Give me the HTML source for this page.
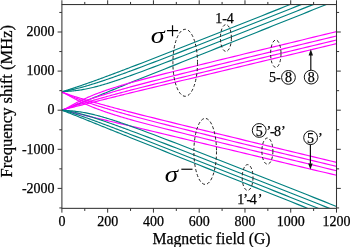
<!DOCTYPE html><html><head><meta charset="utf-8"><title>Frequency shift vs magnetic field</title><style>html,body{margin:0;padding:0;background:#fff}body{width:350px;height:247px;position:relative;overflow:hidden}</style></head><body><svg width="350" height="247" viewBox="0 0 350 247" style="position:absolute;left:0;top:0">
<defs><clipPath id="c"><rect x="61.9" y="4.55" width="274.6" height="203.79999999999998"/></clipPath></defs>
<g clip-path="url(#c)" fill="none" stroke-linejoin="round">
<path d="M61.90,91.94 L63.04,91.47 L64.19,91.06 L65.33,90.68 L66.48,90.31 L67.62,89.95 L68.77,89.59 L69.91,89.23 L71.05,88.86 L72.20,88.49 L73.34,88.12 L74.49,87.75 L75.63,87.37 L76.77,86.99 L77.92,86.61 L79.06,86.23 L80.21,85.84 L81.35,85.45 L82.50,85.06 L83.64,84.66 L84.78,84.27 L85.93,83.87 L87.07,83.46 L88.22,83.06 L89.36,82.66 L90.50,82.25 L91.65,81.84 L92.79,81.43 L93.94,81.02 L95.08,80.61 L96.22,80.19 L97.37,79.78 L98.51,79.36 L99.66,78.94 L100.80,78.52 L101.95,78.10 L103.09,77.68 L104.23,77.26 L105.38,76.83 L106.52,76.41 L107.67,75.98 L108.81,75.56 L109.96,75.13 L111.10,74.70 L112.24,74.27 L113.39,73.84 L114.53,73.41 L115.68,72.98 L116.82,72.55 L117.96,72.12 L119.11,71.68 L120.25,71.25 L121.40,70.82 L122.54,70.38 L123.69,69.95 L124.83,69.51 L125.97,69.08 L127.12,68.64 L128.26,68.20 L129.41,67.77 L130.55,67.33 L136.27,65.13 L141.99,62.92 L147.71,60.70 L153.43,58.48 L159.15,56.25 L164.88,54.01 L170.60,51.78 L176.32,49.53 L182.04,47.29 L187.76,45.04 L193.48,42.79 L199.20,40.54 L204.92,38.28 L210.64,36.03 L216.36,33.77 L222.08,31.51 L227.80,29.25 L233.53,26.99 L239.25,24.73 L244.97,22.46 L250.69,20.20 L256.41,17.93 L262.13,15.66 L267.85,13.39 L273.57,11.13 L279.29,8.86 L285.01,6.59 L290.73,4.32 L296.45,2.05 L302.18,-0.23 L307.90,-2.50 L313.62,-4.77 L319.34,-7.04 L325.06,-9.31 L330.78,-11.59 L336.50,-13.86" stroke="#008080" stroke-width="1.15"/>
<path d="M61.90,91.94 L63.04,91.65 L64.19,91.35 L65.33,91.09 L66.48,90.85 L67.62,90.61 L68.77,90.38 L69.91,90.14 L71.05,89.89 L72.20,89.64 L73.34,89.38 L74.49,89.12 L75.63,88.84 L76.77,88.56 L77.92,88.28 L79.06,87.99 L80.21,87.69 L81.35,87.38 L82.50,87.07 L83.64,86.76 L84.78,86.44 L85.93,86.11 L87.07,85.78 L88.22,85.44 L89.36,85.10 L90.50,84.76 L91.65,84.41 L92.79,84.06 L93.94,83.70 L95.08,83.34 L96.22,82.98 L97.37,82.61 L98.51,82.24 L99.66,81.86 L100.80,81.49 L101.95,81.11 L103.09,80.73 L104.23,80.34 L105.38,79.95 L106.52,79.56 L107.67,79.17 L108.81,78.78 L109.96,78.38 L111.10,77.99 L112.24,77.59 L113.39,77.18 L114.53,76.78 L115.68,76.38 L116.82,75.97 L117.96,75.56 L119.11,75.15 L120.25,74.74 L121.40,74.33 L122.54,73.92 L123.69,73.50 L124.83,73.09 L125.97,72.67 L127.12,72.25 L128.26,71.83 L129.41,71.41 L130.55,70.99 L136.27,68.87 L141.99,66.73 L147.71,64.57 L153.43,62.39 L159.15,60.21 L164.88,58.01 L170.60,55.81 L176.32,53.60 L182.04,51.39 L187.76,49.16 L193.48,46.94 L199.20,44.71 L204.92,42.47 L210.64,40.23 L216.36,37.99 L222.08,35.74 L227.80,33.50 L233.53,31.25 L239.25,29.00 L244.97,26.74 L250.69,24.49 L256.41,22.23 L262.13,19.97 L267.85,17.72 L273.57,15.45 L279.29,13.19 L285.01,10.93 L290.73,8.67 L296.45,6.40 L302.18,4.14 L307.90,1.87 L313.62,-0.40 L319.34,-2.66 L325.06,-4.93 L330.78,-7.20 L336.50,-9.47" stroke="#008080" stroke-width="1.15"/>
<path d="M61.90,91.94 L63.04,91.86 L64.19,91.64 L65.33,91.52 L66.48,91.43 L67.62,91.36 L68.77,91.28 L69.91,91.19 L71.05,91.09 L72.20,90.99 L73.34,90.88 L74.49,90.75 L75.63,90.62 L76.77,90.48 L77.92,90.33 L79.06,90.17 L80.21,90.00 L81.35,89.82 L82.50,89.63 L83.64,89.43 L84.78,89.22 L85.93,89.00 L87.07,88.77 L88.22,88.53 L89.36,88.29 L90.50,88.03 L91.65,87.77 L92.79,87.50 L93.94,87.22 L95.08,86.93 L96.22,86.64 L97.37,86.34 L98.51,86.03 L99.66,85.71 L100.80,85.39 L101.95,85.06 L103.09,84.73 L104.23,84.39 L105.38,84.05 L106.52,83.70 L107.67,83.35 L108.81,82.99 L109.96,82.63 L111.10,82.26 L112.24,81.89 L113.39,81.52 L114.53,81.15 L115.68,80.77 L116.82,80.38 L117.96,80.00 L119.11,79.61 L120.25,79.22 L121.40,78.82 L122.54,78.43 L123.69,78.03 L124.83,77.63 L125.97,77.23 L127.12,76.82 L128.26,76.42 L129.41,76.01 L130.55,75.60 L136.27,73.53 L141.99,71.42 L147.71,69.29 L153.43,67.13 L159.15,64.96 L164.88,62.78 L170.60,60.59 L176.32,58.38 L182.04,56.17 L187.76,53.95 L193.48,51.72 L199.20,49.49 L204.92,47.26 L210.64,45.02 L216.36,42.78 L222.08,40.53 L227.80,38.28 L233.53,36.03 L239.25,33.78 L244.97,31.52 L250.69,29.27 L256.41,27.01 L262.13,24.75 L267.85,22.49 L273.57,20.23 L279.29,17.96 L285.01,15.70 L290.73,13.43 L296.45,11.17 L302.18,8.90 L307.90,6.63 L313.62,4.36 L319.34,2.09 L325.06,-0.18 L330.78,-2.45 L336.50,-4.72" stroke="#008080" stroke-width="1.15"/>
<path d="M61.90,109.95 L63.04,109.78 L64.19,109.49 L65.33,109.12 L66.48,108.70 L67.62,108.27 L68.77,107.82 L69.91,107.37 L71.05,106.91 L72.20,106.45 L73.34,105.99 L74.49,105.52 L75.63,105.06 L76.77,104.59 L77.92,104.13 L79.06,103.66 L80.21,103.20 L81.35,102.73 L82.50,102.26 L83.64,101.80 L84.78,101.33 L85.93,100.86 L87.07,100.40 L88.22,99.93 L89.36,99.46 L90.50,98.99 L91.65,98.53 L92.79,98.06 L93.94,97.59 L95.08,97.12 L96.22,96.66 L97.37,96.19 L98.51,95.72 L99.66,95.25 L100.80,94.79 L101.95,94.32 L103.09,93.85 L104.23,93.38 L105.38,92.92 L106.52,92.45 L107.67,91.98 L108.81,91.51 L109.96,91.04 L111.10,90.58 L112.24,90.11 L113.39,89.64 L114.53,89.17 L115.68,88.70 L116.82,88.24 L117.96,87.77 L119.11,87.30 L120.25,86.83 L121.40,86.36 L122.54,85.90 L123.69,85.43 L124.83,84.96 L125.97,84.49 L127.12,84.02 L128.26,83.56 L129.41,83.09 L130.55,82.62 L136.27,80.34 L141.99,78.06 L147.71,75.77 L153.43,73.49 L159.15,71.21 L164.88,68.93 L170.60,66.65 L176.32,64.37 L182.04,62.08 L187.76,59.80 L193.48,57.52 L199.20,55.24 L204.92,52.95 L210.64,50.67 L216.36,48.39 L222.08,46.11 L227.80,43.83 L233.53,41.54 L239.25,39.26 L244.97,36.98 L250.69,34.70 L256.41,32.42 L262.13,30.13 L267.85,27.85 L273.57,25.57 L279.29,23.29 L285.01,21.00 L290.73,18.72 L296.45,16.44 L302.18,14.16 L307.90,11.88 L313.62,9.59 L319.34,7.31 L325.06,5.03 L330.78,2.75 L336.50,0.47" stroke="#008080" stroke-width="1.15"/>
<path d="M61.90,109.95 L63.04,109.66 L64.19,109.38 L65.33,109.10 L66.48,108.81 L67.62,108.53 L68.77,108.24 L69.91,107.96 L71.05,107.67 L72.20,107.39 L73.34,107.10 L74.49,106.82 L75.63,106.53 L76.77,106.25 L77.92,105.96 L79.06,105.68 L80.21,105.39 L81.35,105.11 L82.50,104.83 L83.64,104.54 L84.78,104.26 L85.93,103.97 L87.07,103.69 L88.22,103.40 L89.36,103.12 L90.50,102.83 L91.65,102.55 L92.79,102.26 L93.94,101.98 L95.08,101.69 L96.22,101.41 L97.37,101.12 L98.51,100.84 L99.66,100.56 L100.80,100.27 L101.95,99.99 L103.09,99.70 L104.23,99.42 L105.38,99.13 L106.52,98.85 L107.67,98.56 L108.81,98.28 L109.96,97.99 L111.10,97.71 L112.24,97.42 L113.39,97.14 L114.53,96.85 L115.68,96.57 L116.82,96.29 L117.96,96.00 L119.11,95.72 L120.25,95.43 L121.40,95.15 L122.54,94.86 L123.69,94.58 L124.83,94.29 L125.97,94.01 L127.12,93.72 L128.26,93.44 L129.41,93.15 L130.55,92.87 L136.27,91.50 L141.99,90.13 L147.71,88.77 L153.43,87.40 L159.15,86.03 L164.88,84.66 L170.60,83.29 L176.32,81.93 L182.04,80.56 L187.76,79.19 L193.48,77.82 L199.20,76.45 L204.92,75.09 L210.64,73.72 L216.36,72.35 L222.08,70.98 L227.80,69.61 L233.53,68.25 L239.25,66.88 L244.97,65.51 L250.69,64.14 L256.41,62.78 L262.13,61.41 L267.85,60.04 L273.57,58.67 L279.29,57.30 L285.01,55.94 L290.73,54.57 L296.45,53.20 L302.18,51.83 L307.90,50.46 L313.62,49.10 L319.34,47.73 L325.06,46.36 L330.78,44.99 L336.50,43.62" stroke="#ff00ff" stroke-width="1.15"/>
<path d="M61.90,109.95 L63.04,109.67 L64.19,109.34 L65.33,108.99 L66.48,108.61 L67.62,108.24 L68.77,107.86 L69.91,107.48 L71.05,107.11 L72.20,106.74 L73.34,106.37 L74.49,106.00 L75.63,105.64 L76.77,105.28 L77.92,104.92 L79.06,104.56 L80.21,104.21 L81.35,103.86 L82.50,103.51 L83.64,103.17 L84.78,102.83 L85.93,102.49 L87.07,102.15 L88.22,101.81 L89.36,101.48 L90.50,101.14 L91.65,100.81 L92.79,100.48 L93.94,100.15 L95.08,99.83 L96.22,99.50 L97.37,99.18 L98.51,98.85 L99.66,98.53 L100.80,98.21 L101.95,97.89 L103.09,97.58 L104.23,97.26 L105.38,96.94 L106.52,96.63 L107.67,96.31 L108.81,96.00 L109.96,95.69 L111.10,95.37 L112.24,95.06 L113.39,94.75 L114.53,94.44 L115.68,94.14 L116.82,93.83 L117.96,93.52 L119.11,93.21 L120.25,92.91 L121.40,92.60 L122.54,92.29 L123.69,91.99 L124.83,91.69 L125.97,91.38 L127.12,91.08 L128.26,90.78 L129.41,90.47 L130.55,90.17 L136.27,88.72 L141.99,87.28 L147.71,85.85 L153.43,84.42 L159.15,83.00 L164.88,81.58 L170.60,80.17 L176.32,78.76 L182.04,77.36 L187.76,75.96 L193.48,74.56 L199.20,73.16 L204.92,71.76 L210.64,70.37 L216.36,68.98 L222.08,67.58 L227.80,66.20 L233.53,64.81 L239.25,63.42 L244.97,62.03 L250.69,60.65 L256.41,59.27 L262.13,57.88 L267.85,56.50 L273.57,55.12 L279.29,53.74 L285.01,52.36 L290.73,50.98 L296.45,49.60 L302.18,48.22 L307.90,46.84 L313.62,45.46 L319.34,44.08 L325.06,42.71 L330.78,41.33 L336.50,39.95" stroke="#ff00ff" stroke-width="1.15"/>
<path d="M61.90,109.95 L63.04,109.70 L64.19,109.33 L65.33,108.89 L66.48,108.41 L67.62,107.92 L68.77,107.43 L69.91,106.93 L71.05,106.45 L72.20,105.96 L73.34,105.49 L74.49,105.02 L75.63,104.55 L76.77,104.09 L77.92,103.64 L79.06,103.20 L80.21,102.76 L81.35,102.32 L82.50,101.90 L83.64,101.47 L84.78,101.05 L85.93,100.64 L87.07,100.23 L88.22,99.83 L89.36,99.43 L90.50,99.04 L91.65,98.65 L92.79,98.26 L93.94,97.88 L95.08,97.50 L96.22,97.12 L97.37,96.75 L98.51,96.38 L99.66,96.02 L100.80,95.66 L101.95,95.30 L103.09,94.94 L104.23,94.58 L105.38,94.23 L106.52,93.88 L107.67,93.53 L108.81,93.19 L109.96,92.84 L111.10,92.50 L112.24,92.16 L113.39,91.82 L114.53,91.49 L115.68,91.15 L116.82,90.82 L117.96,90.49 L119.11,90.16 L120.25,89.83 L121.40,89.50 L122.54,89.17 L123.69,88.85 L124.83,88.52 L125.97,88.20 L127.12,87.88 L128.26,87.56 L129.41,87.24 L130.55,86.92 L136.27,85.39 L141.99,83.89 L147.71,82.40 L153.43,80.92 L159.15,79.46 L164.88,78.00 L170.60,76.55 L176.32,75.11 L182.04,73.68 L187.76,72.25 L193.48,70.83 L199.20,69.41 L204.92,68.00 L210.64,66.58 L216.36,65.18 L222.08,63.77 L227.80,62.37 L233.53,60.97 L239.25,59.57 L244.97,58.17 L250.69,56.78 L256.41,55.38 L262.13,53.99 L267.85,52.60 L273.57,51.21 L279.29,49.82 L285.01,48.43 L290.73,47.05 L296.45,45.66 L302.18,44.28 L307.90,42.89 L313.62,41.51 L319.34,40.13 L325.06,38.74 L330.78,37.36 L336.50,35.98" stroke="#ff00ff" stroke-width="1.15"/>
<path d="M61.90,109.95 L63.04,109.73 L64.19,109.35 L65.33,108.81 L66.48,108.19 L67.62,107.55 L68.77,106.91 L69.91,106.28 L71.05,105.64 L72.20,105.01 L73.34,104.39 L74.49,103.78 L75.63,103.18 L76.77,102.59 L77.92,102.00 L79.06,101.42 L80.21,100.86 L81.35,100.30 L82.50,99.75 L83.64,99.21 L84.78,98.69 L85.93,98.17 L87.07,97.66 L88.22,97.15 L89.36,96.66 L90.50,96.18 L91.65,95.70 L92.79,95.23 L93.94,94.77 L95.08,94.32 L96.22,93.88 L97.37,93.44 L98.51,93.01 L99.66,92.59 L100.80,92.17 L101.95,91.76 L103.09,91.35 L104.23,90.95 L105.38,90.55 L106.52,90.16 L107.67,89.77 L108.81,89.39 L109.96,89.02 L111.10,88.64 L112.24,88.27 L113.39,87.90 L114.53,87.54 L115.68,87.18 L116.82,86.82 L117.96,86.47 L119.11,86.12 L120.25,85.77 L121.40,85.42 L122.54,85.08 L123.69,84.74 L124.83,84.40 L125.97,84.06 L127.12,83.73 L128.26,83.39 L129.41,83.06 L130.55,82.73 L136.27,81.16 L141.99,79.62 L147.71,78.10 L153.43,76.60 L159.15,75.12 L164.88,73.66 L170.60,72.20 L176.32,70.75 L182.04,69.32 L187.76,67.89 L193.48,66.46 L199.20,65.04 L204.92,63.63 L210.64,62.22 L216.36,60.81 L222.08,59.40 L227.80,58.00 L233.53,56.60 L239.25,55.21 L244.97,53.81 L250.69,52.42 L256.41,51.03 L262.13,49.64 L267.85,48.25 L273.57,46.86 L279.29,45.47 L285.01,44.09 L290.73,42.70 L296.45,41.32 L302.18,39.94 L307.90,38.55 L313.62,37.17 L319.34,35.79 L325.06,34.41 L330.78,33.03 L336.50,31.65" stroke="#ff00ff" stroke-width="1.15"/>
<path d="M61.90,92.36 L63.04,92.63 L64.19,93.01 L65.33,93.40 L66.48,93.79 L67.62,94.17 L68.77,94.56 L69.91,94.94 L71.05,95.32 L72.20,95.69 L73.34,96.06 L74.49,96.43 L75.63,96.79 L76.77,97.15 L77.92,97.51 L79.06,97.86 L80.21,98.21 L81.35,98.56 L82.50,98.91 L83.64,99.25 L84.78,99.59 L85.93,99.93 L87.07,100.27 L88.22,100.60 L89.36,100.94 L90.50,101.27 L91.65,101.60 L92.79,101.93 L93.94,102.25 L95.08,102.58 L96.22,102.90 L97.37,103.22 L98.51,103.55 L99.66,103.87 L100.80,104.18 L101.95,104.50 L103.09,104.82 L104.23,105.13 L105.38,105.45 L106.52,105.76 L107.67,106.07 L108.81,106.38 L109.96,106.70 L111.10,107.01 L112.24,107.31 L113.39,107.62 L114.53,107.93 L115.68,108.24 L116.82,108.54 L117.96,108.85 L119.11,109.15 L120.25,109.46 L121.40,109.76 L122.54,110.07 L123.69,110.37 L124.83,110.67 L125.97,110.97 L127.12,111.28 L128.26,111.58 L129.41,111.88 L130.55,112.18 L136.27,113.63 L141.99,115.07 L147.71,116.50 L153.43,117.93 L159.15,119.35 L164.88,120.77 L170.60,122.18 L176.32,123.59 L182.04,124.99 L187.76,126.39 L193.48,127.79 L199.20,129.19 L204.92,130.59 L210.64,131.98 L216.36,133.37 L222.08,134.77 L227.80,136.16 L233.53,137.54 L239.25,138.93 L244.97,140.32 L250.69,141.70 L256.41,143.09 L262.13,144.47 L267.85,145.85 L273.57,147.23 L279.29,148.61 L285.01,149.99 L290.73,151.37 L296.45,152.75 L302.18,154.13 L307.90,155.51 L313.62,156.89 L319.34,158.27 L325.06,159.64 L330.78,161.02 L336.50,162.40" stroke="#ff00ff" stroke-width="1.15"/>
<path d="M61.90,92.23 L63.04,92.58 L64.19,93.05 L65.33,93.55 L66.48,94.06 L67.62,94.56 L68.77,95.06 L69.91,95.56 L71.05,96.05 L72.20,96.53 L73.34,97.01 L74.49,97.48 L75.63,97.94 L76.77,98.40 L77.92,98.85 L79.06,99.29 L80.21,99.73 L81.35,100.16 L82.50,100.59 L83.64,101.01 L84.78,101.43 L85.93,101.84 L87.07,102.25 L88.22,102.65 L89.36,103.04 L90.50,103.44 L91.65,103.82 L92.79,104.21 L93.94,104.59 L95.08,104.97 L96.22,105.34 L97.37,105.71 L98.51,106.08 L99.66,106.44 L100.80,106.80 L101.95,107.16 L103.09,107.51 L104.23,107.87 L105.38,108.22 L106.52,108.57 L107.67,108.91 L108.81,109.26 L109.96,109.60 L111.10,109.94 L112.24,110.28 L113.39,110.61 L114.53,110.95 L115.68,111.28 L116.82,111.61 L117.96,111.94 L119.11,112.27 L120.25,112.60 L121.40,112.92 L122.54,113.25 L123.69,113.57 L124.83,113.89 L125.97,114.21 L127.12,114.53 L128.26,114.85 L129.41,115.17 L130.55,115.49 L136.27,117.01 L141.99,118.52 L147.71,120.01 L153.43,121.49 L159.15,122.95 L164.88,124.41 L170.60,125.85 L176.32,127.29 L182.04,128.73 L187.76,130.16 L193.48,131.58 L199.20,133.00 L204.92,134.41 L210.64,135.82 L216.36,137.23 L222.08,138.64 L227.80,140.04 L233.53,141.44 L239.25,142.84 L244.97,144.24 L250.69,145.63 L256.41,147.03 L262.13,148.42 L267.85,149.81 L273.57,151.20 L279.29,152.59 L285.01,153.97 L290.73,155.36 L296.45,156.75 L302.18,158.13 L307.90,159.51 L313.62,160.90 L319.34,162.28 L325.06,163.66 L330.78,165.04 L336.50,166.43" stroke="#ff00ff" stroke-width="1.15"/>
<path d="M61.90,91.86 L63.04,92.41 L64.19,93.01 L65.33,93.64 L66.48,94.28 L67.62,94.92 L68.77,95.56 L69.91,96.20 L71.05,96.83 L72.20,97.45 L73.34,98.07 L74.49,98.68 L75.63,99.28 L76.77,99.87 L77.92,100.45 L79.06,101.03 L80.21,101.59 L81.35,102.15 L82.50,102.69 L83.64,103.23 L84.78,103.75 L85.93,104.27 L87.07,104.78 L88.22,105.28 L89.36,105.77 L90.50,106.25 L91.65,106.72 L92.79,107.19 L93.94,107.65 L95.08,108.10 L96.22,108.54 L97.37,108.97 L98.51,109.40 L99.66,109.83 L100.80,110.24 L101.95,110.65 L103.09,111.06 L104.23,111.45 L105.38,111.85 L106.52,112.24 L107.67,112.62 L108.81,113.00 L109.96,113.38 L111.10,113.75 L112.24,114.12 L113.39,114.48 L114.53,114.84 L115.68,115.20 L116.82,115.56 L117.96,115.91 L119.11,116.26 L120.25,116.60 L121.40,116.95 L122.54,117.29 L123.69,117.63 L124.83,117.97 L125.97,118.30 L127.12,118.63 L128.26,118.97 L129.41,119.30 L130.55,119.62 L136.27,121.20 L141.99,122.74 L147.71,124.26 L153.43,125.75 L159.15,127.23 L164.88,128.70 L170.60,130.15 L176.32,131.60 L182.04,133.04 L187.76,134.47 L193.48,135.89 L199.20,137.31 L204.92,138.73 L210.64,140.14 L216.36,141.55 L222.08,142.95 L227.80,144.35 L233.53,145.75 L239.25,147.15 L244.97,148.54 L250.69,149.94 L256.41,151.33 L262.13,152.72 L267.85,154.11 L273.57,155.49 L279.29,156.88 L285.01,158.27 L290.73,159.65 L296.45,161.03 L302.18,162.42 L307.90,163.80 L313.62,165.18 L319.34,166.56 L325.06,167.94 L330.78,169.32 L336.50,170.70" stroke="#ff00ff" stroke-width="1.15"/>
<path d="M61.90,109.95 L63.04,110.22 L64.19,110.49 L65.33,110.75 L66.48,111.02 L67.62,111.29 L68.77,111.56 L69.91,111.83 L71.05,112.10 L72.20,112.36 L73.34,112.63 L74.49,112.90 L75.63,113.17 L76.77,113.44 L77.92,113.71 L79.06,113.98 L80.21,114.24 L81.35,114.51 L82.50,114.78 L83.64,115.05 L84.78,115.32 L85.93,115.59 L87.07,115.85 L88.22,116.12 L89.36,116.39 L90.50,116.66 L91.65,116.93 L92.79,117.20 L93.94,117.46 L95.08,117.73 L96.22,118.00 L97.37,118.27 L98.51,118.54 L99.66,118.81 L100.80,119.07 L101.95,119.34 L103.09,119.61 L104.23,119.88 L105.38,120.15 L106.52,120.42 L107.67,120.68 L108.81,120.95 L109.96,121.22 L111.10,121.49 L112.24,121.76 L113.39,122.03 L114.53,122.29 L115.68,122.56 L116.82,122.83 L117.96,123.10 L119.11,123.37 L120.25,123.64 L121.40,123.90 L122.54,124.17 L123.69,124.44 L124.83,124.71 L125.97,124.98 L127.12,125.25 L128.26,125.52 L129.41,125.78 L130.55,126.05 L136.27,127.42 L141.99,128.79 L147.71,130.16 L153.43,131.52 L159.15,132.89 L164.88,134.26 L170.60,135.63 L176.32,137.00 L182.04,138.36 L187.76,139.73 L193.48,141.10 L199.20,142.47 L204.92,143.84 L210.64,145.20 L216.36,146.57 L222.08,147.94 L227.80,149.31 L233.53,150.67 L239.25,152.04 L244.97,153.41 L250.69,154.78 L256.41,156.15 L262.13,157.51 L267.85,158.88 L273.57,160.25 L279.29,161.62 L285.01,162.99 L290.73,164.35 L296.45,165.72 L302.18,167.09 L307.90,168.46 L313.62,169.83 L319.34,171.19 L325.06,172.56 L330.78,173.93 L336.50,175.30" stroke="#ff00ff" stroke-width="1.15"/>
<path d="M61.90,110.44 L63.04,110.70 L64.19,111.09 L65.33,111.51 L66.48,111.95 L67.62,112.40 L68.77,112.85 L69.91,113.30 L71.05,113.76 L72.20,114.21 L73.34,114.67 L74.49,115.13 L75.63,115.58 L76.77,116.04 L77.92,116.50 L79.06,116.96 L80.21,117.42 L81.35,117.88 L82.50,118.34 L83.64,118.80 L84.78,119.26 L85.93,119.72 L87.07,120.18 L88.22,120.64 L89.36,121.10 L90.50,121.56 L91.65,122.02 L92.79,122.48 L93.94,122.94 L95.08,123.40 L96.22,123.86 L97.37,124.32 L98.51,124.78 L99.66,125.24 L100.80,125.70 L101.95,126.16 L103.09,126.62 L104.23,127.08 L105.38,127.55 L106.52,128.01 L107.67,128.47 L108.81,128.93 L109.96,129.39 L111.10,129.85 L112.24,130.31 L113.39,130.77 L114.53,131.23 L115.68,131.69 L116.82,132.15 L117.96,132.61 L119.11,133.07 L120.25,133.54 L121.40,134.00 L122.54,134.46 L123.69,134.92 L124.83,135.38 L125.97,135.84 L127.12,136.30 L128.26,136.76 L129.41,137.22 L130.55,137.68 L136.27,139.96 L141.99,142.25 L147.71,144.53 L153.43,146.81 L159.15,149.09 L164.88,151.37 L170.60,153.66 L176.32,155.94 L182.04,158.22 L187.76,160.50 L193.48,162.78 L199.20,165.07 L204.92,167.35 L210.64,169.63 L216.36,171.91 L222.08,174.19 L227.80,176.48 L233.53,178.76 L239.25,181.04 L244.97,183.32 L250.69,185.61 L256.41,187.89 L262.13,190.17 L267.85,192.45 L273.57,194.73 L279.29,197.02 L285.01,199.30 L290.73,201.58 L296.45,203.86 L302.18,206.15 L307.90,208.43 L313.62,210.71 L319.34,212.99 L325.06,215.27 L330.78,217.56 L336.50,219.84" stroke="#008080" stroke-width="1.15"/>
<path d="M61.90,110.44 L63.04,110.46 L64.19,110.69 L65.33,110.97 L66.48,111.29 L67.62,111.62 L68.77,111.96 L69.91,112.30 L71.05,112.66 L72.20,113.02 L73.34,113.39 L74.49,113.76 L75.63,114.14 L76.77,114.52 L77.92,114.90 L79.06,115.29 L80.21,115.68 L81.35,116.07 L82.50,116.46 L83.64,116.86 L84.78,117.26 L85.93,117.67 L87.07,118.07 L88.22,118.48 L89.36,118.89 L90.50,119.30 L91.65,119.71 L92.79,120.13 L93.94,120.54 L95.08,120.96 L96.22,121.38 L97.37,121.80 L98.51,122.22 L99.66,122.65 L100.80,123.07 L101.95,123.50 L103.09,123.92 L104.23,124.35 L105.38,124.78 L106.52,125.21 L107.67,125.64 L108.81,126.07 L109.96,126.51 L111.10,126.94 L112.24,127.37 L113.39,127.81 L114.53,128.24 L115.68,128.68 L116.82,129.12 L117.96,129.55 L119.11,129.99 L120.25,130.43 L121.40,130.87 L122.54,131.31 L123.69,131.75 L124.83,132.19 L125.97,132.63 L127.12,133.08 L128.26,133.52 L129.41,133.96 L130.55,134.41 L136.27,136.61 L141.99,138.82 L147.71,141.03 L153.43,143.25 L159.15,145.48 L164.88,147.72 L170.60,149.95 L176.32,152.19 L182.04,154.44 L187.76,156.69 L193.48,158.94 L199.20,161.19 L204.92,163.44 L210.64,165.70 L216.36,167.96 L222.08,170.21 L227.80,172.47 L233.53,174.74 L239.25,177.00 L244.97,179.26 L250.69,181.53 L256.41,183.79 L262.13,186.06 L267.85,188.33 L273.57,190.60 L279.29,192.87 L285.01,195.14 L290.73,197.41 L296.45,199.68 L302.18,201.95 L307.90,204.22 L313.62,206.49 L319.34,208.76 L325.06,211.04 L330.78,213.31 L336.50,215.58" stroke="#008080" stroke-width="1.15"/>
<path d="M61.90,110.07 L63.04,110.16 L64.19,110.25 L65.33,110.40 L66.48,110.59 L67.62,110.79 L68.77,111.02 L69.91,111.25 L71.05,111.49 L72.20,111.75 L73.34,112.01 L74.49,112.28 L75.63,112.55 L76.77,112.84 L77.92,113.13 L79.06,113.42 L80.21,113.73 L81.35,114.04 L82.50,114.35 L83.64,114.67 L84.78,115.00 L85.93,115.33 L87.07,115.67 L88.22,116.01 L89.36,116.35 L90.50,116.70 L91.65,117.06 L92.79,117.42 L93.94,117.78 L95.08,118.15 L96.22,118.52 L97.37,118.89 L98.51,119.27 L99.66,119.64 L100.80,120.03 L101.95,120.41 L103.09,120.80 L104.23,121.19 L105.38,121.58 L106.52,121.98 L107.67,122.38 L108.81,122.78 L109.96,123.18 L111.10,123.58 L112.24,123.99 L113.39,124.39 L114.53,124.80 L115.68,125.21 L116.82,125.62 L117.96,126.04 L119.11,126.45 L120.25,126.87 L121.40,127.29 L122.54,127.71 L123.69,128.13 L124.83,128.55 L125.97,128.97 L127.12,129.39 L128.26,129.82 L129.41,130.25 L130.55,130.67 L136.27,132.80 L141.99,134.94 L147.71,137.10 L153.43,139.27 L159.15,141.46 L164.88,143.65 L170.60,145.85 L176.32,148.06 L182.04,150.28 L187.76,152.50 L193.48,154.73 L199.20,156.96 L204.92,159.20 L210.64,161.43 L216.36,163.68 L222.08,165.92 L227.80,168.17 L233.53,170.42 L239.25,172.67 L244.97,174.92 L250.69,177.18 L256.41,179.43 L262.13,181.69 L267.85,183.95 L273.57,186.21 L279.29,188.47 L285.01,190.73 L290.73,193.00 L296.45,195.26 L302.18,197.53 L307.90,199.79 L313.62,202.06 L319.34,204.33 L325.06,206.60 L330.78,208.86 L336.50,211.13" stroke="#008080" stroke-width="1.15"/>
<path d="M61.90,109.95 L63.04,110.13 L64.19,110.27 L65.33,110.37 L66.48,110.46 L67.62,110.55 L68.77,110.64 L69.91,110.73 L71.05,110.84 L72.20,110.94 L73.34,111.06 L74.49,111.18 L75.63,111.31 L76.77,111.45 L77.92,111.60 L79.06,111.76 L80.21,111.93 L81.35,112.11 L82.50,112.29 L83.64,112.49 L84.78,112.69 L85.93,112.91 L87.07,113.13 L88.22,113.37 L89.36,113.61 L90.50,113.86 L91.65,114.12 L92.79,114.38 L93.94,114.66 L95.08,114.94 L96.22,115.23 L97.37,115.53 L98.51,115.83 L99.66,116.14 L100.80,116.46 L101.95,116.78 L103.09,117.11 L104.23,117.44 L105.38,117.78 L106.52,118.12 L107.67,118.47 L108.81,118.82 L109.96,119.18 L111.10,119.54 L112.24,119.90 L113.39,120.27 L114.53,120.64 L115.68,121.01 L116.82,121.39 L117.96,121.77 L119.11,122.15 L120.25,122.54 L121.40,122.93 L122.54,123.32 L123.69,123.71 L124.83,124.10 L125.97,124.50 L127.12,124.90 L128.26,125.30 L129.41,125.70 L130.55,126.10 L136.27,128.18 L141.99,130.29 L147.71,132.42 L153.43,134.58 L159.15,136.75 L164.88,138.93 L170.60,141.13 L176.32,143.33 L182.04,145.54 L187.76,147.76 L193.48,149.99 L199.20,152.22 L204.92,154.45 L210.64,156.69 L216.36,158.94 L222.08,161.18 L227.80,163.43 L233.53,165.68 L239.25,167.93 L244.97,170.19 L250.69,172.45 L256.41,174.71 L262.13,176.97 L267.85,179.23 L273.57,181.49 L279.29,183.75 L285.01,186.02 L290.73,188.28 L296.45,190.55 L302.18,192.82 L307.90,195.08 L313.62,197.35 L319.34,199.62 L325.06,201.89 L330.78,204.16 L336.50,206.43" stroke="#008080" stroke-width="1.15"/>
</g>
<rect x="61.9" y="4.55" width="274.6" height="203.79999999999998" fill="none" stroke="#333" stroke-width="1.05"/>
<path d="M61.90,208.35v4.3M61.90,4.55v-4.3M84.78,208.35v2.6M84.78,4.55v-2.6M107.67,208.35v4.3M107.67,4.55v-4.3M130.55,208.35v2.6M130.55,4.55v-2.6M153.43,208.35v4.3M153.43,4.55v-4.3M176.32,208.35v2.6M176.32,4.55v-2.6M199.20,208.35v4.3M199.20,4.55v-4.3M222.08,208.35v2.6M222.08,4.55v-2.6M244.97,208.35v4.3M244.97,4.55v-4.3M267.85,208.35v2.6M267.85,4.55v-2.6M290.73,208.35v4.3M290.73,4.55v-4.3M313.62,208.35v2.6M313.62,4.55v-2.6M336.50,208.35v4.3M336.50,4.55v-4.3M61.9,207.95h-2.6M336.5,207.95h2.6M61.9,188.40h-4.3M336.5,188.40h4.3M61.9,168.85h-2.6M336.5,168.85h2.6M61.9,149.30h-4.3M336.5,149.30h4.3M61.9,129.75h-2.6M336.5,129.75h2.6M61.9,110.20h-4.3M336.5,110.20h4.3M61.9,90.65h-2.6M336.5,90.65h2.6M61.9,71.10h-4.3M336.5,71.10h4.3M61.9,51.55h-2.6M336.5,51.55h2.6M61.9,32.00h-4.3M336.5,32.00h4.3M61.9,12.45h-2.6M336.5,12.45h2.6" stroke="#333" stroke-width="1.0" fill="none"/>
<ellipse cx="185.2" cy="62.8" rx="12.3" ry="33.5" fill="none" stroke="#222" stroke-width="1" stroke-dasharray="3.1 2.2"/>
<ellipse cx="225.9" cy="38" rx="5.5" ry="13.4" fill="none" stroke="#222" stroke-width="1" stroke-dasharray="3.1 2.2"/>
<ellipse cx="275.8" cy="53.7" rx="5.2" ry="13.7" fill="none" stroke="#222" stroke-width="1" stroke-dasharray="3.1 2.2"/>
<ellipse cx="205.2" cy="151.4" rx="11.3" ry="33" fill="none" stroke="#222" stroke-width="1" stroke-dasharray="3.1 2.2"/>
<ellipse cx="267.4" cy="151.1" rx="5.5" ry="13.1" fill="none" stroke="#222" stroke-width="1" stroke-dasharray="3.1 2.2"/>
<ellipse cx="247.6" cy="177.5" rx="5.4" ry="12.9" fill="none" stroke="#222" stroke-width="1" stroke-dasharray="3.1 2.2"/>
<circle cx="288.45" cy="77.4" r="6.9" fill="none" stroke="#111" stroke-width="1.0"/>
<circle cx="311.15" cy="77.1" r="6.9" fill="none" stroke="#111" stroke-width="1.0"/>
<circle cx="259.2" cy="130.45" r="6.9" fill="none" stroke="#111" stroke-width="1.0"/>
<circle cx="310.6" cy="137.7" r="6.9" fill="none" stroke="#111" stroke-width="1.0"/>
<path d="M310.8,70.2V54.5" stroke="#111" stroke-width="1.2" fill="none"/><path d="M310.8,49.2l2.2,6.2h-4.4z" fill="#111"/>
<path d="M310.4,144.6V163.8" stroke="#111" stroke-width="1.2" fill="none"/><path d="M310.4,169.6l2.2,-6.2h-4.4z" fill="#111"/>
<g font-family="'Liberation Serif', 'Times New Roman', serif" fill="#000" stroke="#000" stroke-width="0.25">
<text x="61.90" y="226" font-size="14" text-anchor="middle" >0</text>
<text x="107.67" y="226" font-size="14" text-anchor="middle" >200</text>
<text x="153.43" y="226" font-size="14" text-anchor="middle" >400</text>
<text x="199.20" y="226" font-size="14" text-anchor="middle" >600</text>
<text x="244.97" y="226" font-size="14" text-anchor="middle" >800</text>
<text x="290.73" y="226" font-size="14" text-anchor="middle" >1000</text>
<text x="336.50" y="226" font-size="14" text-anchor="middle" >1200</text>
<text x="54.6" y="192.65" font-size="14" text-anchor="end" >-2000</text>
<text x="54.6" y="153.55" font-size="14" text-anchor="end" >-1000</text>
<text x="54.6" y="114.45" font-size="14" text-anchor="end" >0</text>
<text x="54.6" y="75.35" font-size="14" text-anchor="end" >1000</text>
<text x="54.6" y="36.25" font-size="14" text-anchor="end" >2000</text>
<text x="152.5" y="243.9" font-size="16" textLength="118" lengthAdjust="spacingAndGlyphs">Magnetic field (G)</text>
<text transform="translate(12.1,177.4) rotate(-90)" font-size="16.3" textLength="152.5" lengthAdjust="spacingAndGlyphs">Frequency shift (MHz)</text>
<text x="215.2" y="22.6" font-size="14" text-anchor="start" >1-4</text>
<text x="269.05" y="82.1" font-size="14" text-anchor="start" >5-</text>
<text x="288.45" y="82.1" font-size="14" text-anchor="middle" >8</text>
<text x="311.25" y="81.8" font-size="14" text-anchor="middle" >8</text>
<text x="259.2" y="135.5" font-size="14" text-anchor="middle" >5</text>
<text x="266.5 270.1 274.1 281.0" y="135.6" font-size="14" text-anchor="start" >’-8’</text>
<text x="310.6" y="142.7" font-size="14" text-anchor="middle" >5</text>
<text x="317.9" y="142.7" font-size="14" text-anchor="start" >’</text>
<text x="237.15 243.2 246.4 249.75 257.75" y="203.7" font-size="14" text-anchor="start" >1’-4’</text>
<text transform="translate(150.7,42.8) scale(1.2,1)" font-size="23.4" font-style="italic" stroke="none">σ</text>
<text x="165.8" y="37.8" font-size="24" text-anchor="start" stroke="none">+</text>
<text transform="translate(164.7,182.2) scale(1.16,1)" font-size="23.2" font-style="italic" stroke="none">σ</text>
<text x="180.2" y="176.8" font-size="24" text-anchor="start" stroke="none">−</text>
</g>
</svg></body></html>
